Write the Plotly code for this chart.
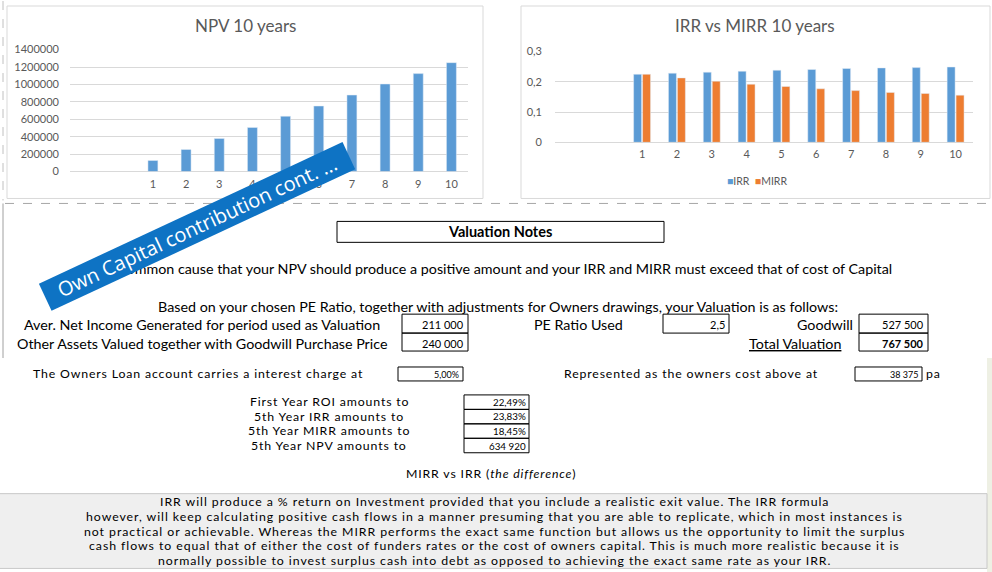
import plotly.graph_objects as go

# ---------------- data ----------------
years = [1, 2, 3, 4, 5, 6, 7, 8, 9, 10]
year_labels = ["1", "2", "3", "4", "5", "6", "7", "8", "9", "10"]
npv = [127000, 253000, 380000, 506000, 634920, 752000, 878000, 1005000, 1124000, 1250000]
irr = [0.2249, 0.2286, 0.2319, 0.2350, 0.2383, 0.2407, 0.2440, 0.2460, 0.2470, 0.2490]
mirr = [0.2249, 0.2130, 0.2020, 0.1920, 0.1845, 0.1770, 0.1710, 0.1650, 0.1615, 0.1560]
npv_ticks = [0, 200000, 400000, 600000, 800000, 1000000, 1200000, 1400000]
npv_tick_labels = ["0", "200000", "400000", "600000", "800000", "1000000", "1200000", "1400000"]
rate_ticks = [0, 0.1, 0.2, 0.3]
rate_tick_labels = ["0", "0,1", "0,2", "0,3"]

avg_net_income = "211 000"
other_assets = "240 000"
pe_ratio = "2,5"
goodwill = "527 500"
total_valuation = "767 500"
loan_interest = "5,00%"
owners_cost = "38 375"
kpi_labels = ["First Year ROI amounts to", "5th Year IRR amounts to",
              "5th Year MIRR amounts to", "5th Year NPV amounts to"]
kpi_values = ["22,49%", "23,83%", "18,45%", "634 920"]

W, H = 992, 572
FONT = "Lato"
GREY = "#595959"
BLUE = "#5B9BD5"
ORANGE = "#ED7D31"


def px(x):
    return x / W


def py(y):
    # vertical position in page pixels (from top), corrected for the capture's vertical mapping
    yy = (y - 6.0) / 0.98
    return 1 - yy / H


fig = go.Figure()

fig.add_trace(go.Bar(x=years, y=npv, marker_color=BLUE, width=0.3,
                     showlegend=False, xaxis="x", yaxis="y", name="NPV"))
fig.add_trace(go.Bar(x=years, y=irr, marker_color=BLUE, width=0.229, offset=-0.243,
                     name="IRR", xaxis="x2", yaxis="y2", showlegend=False))
fig.add_trace(go.Bar(x=years, y=mirr, marker_color=ORANGE, width=0.229, offset=0.014,
                     name="MIRR", xaxis="x2", yaxis="y2", showlegend=False))

axis_font = dict(family=FONT, size=11, color=GREY)

shapes = []
annotations = []


def rect(x0, y0, x1, y1, line="black", width=1, fill=None, dash=None, layer="below"):
    d = dict(type="rect", xref="paper", yref="paper", x0=px(x0), x1=px(x1), y0=py(y0), y1=py(y1),
             line=dict(color=line, width=width), layer=layer)
    if fill:
        d["fillcolor"] = fill
    if dash:
        d["line"]["dash"] = dash
    shapes.append(d)


def line(x0, y0, x1, y1, color, width=1, dash=None):
    d = dict(type="line", xref="paper", yref="paper", x0=px(x0), x1=px(x1), y0=py(y0), y1=py(y1),
             line=dict(color=color, width=width))
    if dash:
        d["line"]["dash"] = dash
    shapes.append(d)


def text(x, y, s, size=14.3, anchor="center", color="black", bold=False, family=FONT, spacing=None):
    if bold:
        s = "<b>" + s + "</b>"
    if spacing:
        s = "<span style='letter-spacing:%spx'>%s</span>" % (spacing, s)
    annotations.append(dict(x=px(x), y=py(y), xref="paper", yref="paper", text=s, showarrow=False,
                            xanchor=anchor, yanchor="middle", borderpad=0,
                            font=dict(family=family, size=size, color=color)))


# chart frames
rect(7, 5, 483, 198, line="#d9d9d9", fill="white")
rect(521, 5, 990, 198, line="#d9d9d9", fill="white")
# separators
line(5, 203, 987, 203, "#a6a6a6", 1, "dash")
line(3, 0, 3, 200, "#c0c0c0", 1, "dash")
line(3, 203, 3, 358, "#a0a0a0", 1)
# right green strip of the pasted lower image
rect(987, 358, 993, 580, line="rgba(0,0,0,0)", width=0, fill="#eef0e4")
# grey note panel
rect(-2, 494, 987, 569, line="#c8c8c8", fill="#efefef")

# chart titles
text(245, 25, "NPV 10 years", size=17, color=GREY)
text(755, 25, "IRR vs MIRR 10 years", size=17, color=GREY)

# manual legend of the IRR/MIRR chart
text(757, 180, "<span style='color:%s'>■</span>IRR  <span style='color:%s'>■</span>MIRR" % (BLUE, ORANGE),
     size=10.5, color=GREY)

# valuation notes
rect(337, 221, 664, 242)
text(500, 231.5, "Valuation Notes", size=14.5, bold=True)
text(893, 268, "It is common cause that your NPV should produce a positive amount and your IRR and MIRR must exceed that of cost of Capital",
     anchor="right")
text(498, 306, "Based on your chosen PE Ratio, together with adjustments for Owners drawings, your Valuation is as follows:")
text(202, 324, "Aver. Net Income Generated for period used as Valuation")
text(202, 343, "Other Assets Valued together with Goodwill Purchase Price")
text(578, 324, "PE Ratio Used")
text(825, 324, "Goodwill")
text(795, 343, "<u>Total Valuation</u>")

rect(402, 314, 468, 333)
rect(402, 333, 468, 351)
text(465, 324, avg_net_income, size=11, anchor="right")
text(465, 343, other_assets, size=11, anchor="right")
rect(663, 314, 729, 333)
text(726, 324, pe_ratio, size=11, anchor="right")
rect(859, 314, 928, 333)
rect(859, 333, 928, 351)
text(925, 324, goodwill, size=11, anchor="right")
text(925, 343, total_valuation, size=11, anchor="right", bold=True)

# lower pasted section
LOW = 12.3
LS = 0.85
text(198, 374, "The Owners Loan account carries a interest charge at", size=LOW, spacing=LS)
rect(398, 367, 463, 381)
text(460, 374.5, loan_interest, size=9, anchor="right")
text(691, 374, "Represented as the owners cost above at", size=LOW, spacing=LS)
rect(855, 367, 922, 381)
text(919, 374.5, owners_cost, size=9, anchor="right")
text(925, 374, "pa", size=LOW, anchor="left", spacing=LS)

row_y = [402, 416.5, 431, 446]
for lab, val, yy in zip(kpi_labels, kpi_values, row_y):
    text(329, yy, lab, size=LOW, spacing=LS)
    text(527, yy, val, size=9.8, anchor="right")
for y0, y1 in [(395, 409.5), (409.5, 424), (424, 438.5), (438.5, 453)]:
    rect(464, y0, 529, y1)

text(491, 474, "MIRR vs IRR (<i>the difference</i>)", size=LOW, spacing=LS)

note_lines = [
    "IRR will produce a % return on Investment provided that you include a realistic exit value. The IRR formula",
    "however, will keep calculating positive cash flows in a manner presuming that you are able to replicate, which in most instances is",
    "not practical or achievable. Whereas the MIRR performs the exact same function but allows us the opportunity to limit the surplus",
    "cash flows to equal that of either the cost of funders rates or the cost of owners capital. This is much more realistic because it is",
    "normally possible to invest surplus cash into debt as opposed to achieving the exact same rate as your IRR.",
]
for i, s in enumerate(note_lines):
    text(494, 502 + i * 14.8, s, size=LOW, spacing=0.95)

# diagonal banner (drawn last so it covers what lies beneath)
annotations.append(dict(x=px(197), y=py(226), xref="paper", yref="paper",
                        text="Own Capital contribution cont. ...", showarrow=False,
                        xanchor="center", yanchor="middle", textangle=-25,
                        width=332, height=27, bgcolor="#0E73C4", borderpad=1,
                        font=dict(family="Open Sans", size=20, color="white")))

fig.update_layout(
    width=W, height=H, autosize=False,
    margin=dict(l=0, r=0, t=0, b=0),
    paper_bgcolor="white", plot_bgcolor="rgba(0,0,0,0)",
    barmode="overlay",
    shapes=shapes, annotations=annotations,
    xaxis=dict(domain=[px(70), px(468)], range=[-1.5, 10.5], tickvals=years, ticktext=year_labels,
               showgrid=False, zeroline=False, showline=False, ticks="", tickfont=axis_font,
               ticklabelstandoff=4, fixedrange=True),
    yaxis=dict(domain=[py(171), py(48.7)], range=[0, 1400000], tickvals=npv_ticks, ticktext=npv_tick_labels,
               showgrid=True, gridcolor="#d9d9d9", gridwidth=1, zeroline=True, zerolinecolor="#d9d9d9",
               zerolinewidth=1, tickfont=axis_font, ticks="", ticklabelstandoff=10, fixedrange=True),
    xaxis2=dict(domain=[px(555), px(973)], range=[-1.5, 10.5], tickvals=years, ticktext=year_labels,
                showgrid=False, zeroline=False, showline=False, ticks="", tickfont=axis_font,
                ticklabelstandoff=4, anchor="y2", fixedrange=True),
    yaxis2=dict(domain=[py(141.7), py(50.7)], range=[0, 0.3], tickvals=rate_ticks, ticktext=rate_tick_labels,
                showgrid=True, gridcolor="#d9d9d9", gridwidth=1, zeroline=True, zerolinecolor="#d9d9d9",
                zerolinewidth=1, tickfont=axis_font, ticks="", ticklabelstandoff=12, anchor="x2",
                fixedrange=True),
    showlegend=False,
)

fig.write_html("out.html", config={"displayModeBar": False},
               post_script=("document.documentElement.style.margin='0';document.body.style.margin='0';"
                            "document.body.style.overflow='hidden';"
                            "var d=document.getElementById('{plot_id}');"
                            "d.style.position='fixed';d.style.left='0px';d.style.top='0px';"))
